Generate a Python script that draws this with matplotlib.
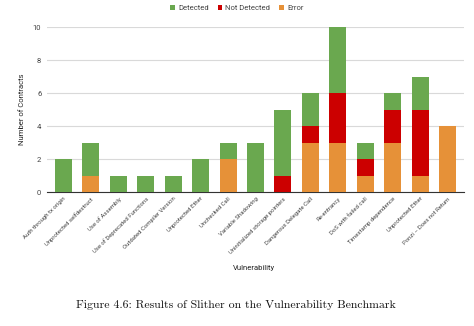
import matplotlib
matplotlib.use("Agg")
import matplotlib.pyplot as plt
import numpy as np

# данные
categories = [
    "Auth through tx origin",
    "Unprotected selfdestruct",
    "Use of Assembly",
    "Use of Deprecated Functions",
    "Outdated Compiler Version",
    "Unprotected Ether",
    "Unchecked Call",
    "Variable Shadowing",
    "Uninitialized storage pointers",
    "Dangerous Delegate Call",
    "Re-entrancy",
    "DoS with failed call",
    "Timestamp dependence",
    "Unprotected Ether",
    "Ponzi \u2013 Does not Return",
]
error = [0, 1, 0, 0, 0, 0, 2, 0, 0, 3, 3, 1, 3, 1, 4]
not_detected = [0, 0, 0, 0, 0, 0, 0, 0, 1, 1, 3, 1, 2, 4, 0]
detected = [2, 2, 1, 1, 1, 2, 1, 3, 4, 2, 4, 1, 1, 2, 0]

c_det = '#6aa84f'
c_not = '#cc0000'
c_err = '#e69138'

plt.rcParams['font.family'] = ['Roboto', 'DejaVu Sans']

fig = plt.figure(figsize=(4.74, 3.26), dpi=100)
ax = fig.add_axes([0.099, 0.411, 0.88, 0.506])

x = np.arange(len(categories))
err = np.array(error)
nd = np.array(not_detected)
det = np.array(detected)
w = 0.62
ax.bar(x, err, w, color=c_err, label='Error', zorder=3)
ax.bar(x, nd, w, bottom=err, color=c_not, label='Not Detected', zorder=3)
ax.bar(x, det, w, bottom=err + nd, color=c_det, label='Detected', zorder=3)

ax.set_ylim(0, 10)
ax.set_xlim(-0.6, len(categories) - 0.4)
ax.set_yticks(range(0, 11, 2))
ax.yaxis.grid(True, color='#d9d9d9', linewidth=0.8, zorder=0)
for s in ['top', 'right', 'left']:
    ax.spines[s].set_visible(False)
ax.spines['bottom'].set_color('#333333')
ax.spines['bottom'].set_linewidth(0.8)
ax.tick_params(axis='y', length=0, labelsize=5.5, labelcolor='#444444', pad=4)
ax.tick_params(axis='x', length=0, pad=3)
ax.set_xticks(x)
ax.set_xticklabels(categories, rotation=45, ha='right', rotation_mode='anchor',
                   fontsize=4.3, color='#444444')

ax.set_ylabel('Number of Contracts', fontsize=5.5, color='#222222', labelpad=6)
fig.text(0.535, 0.178, 'Vulnerability', fontsize=5.5, color='#222222', ha='center', va='center')

# легенда сверху в порядке Detected / Not Detected / Error
h, l = ax.get_legend_handles_labels()
order = [2, 1, 0]
fig.legend([h[i] for i in order], [l[i] for i in order], loc='center',
           bbox_to_anchor=(0.5, 0.975), ncol=3, frameon=False, fontsize=5.5,
           handlelength=0.6, handleheight=0.6, handletextpad=0.4, columnspacing=1.2,
           labelcolor='#444444')

# подпись как в LaTeX
fig.text(0.498, 0.065, 'Figure 4.6: Results of Slither on the Vulnerability Benchmark',
         fontsize=8.5, ha='center', va='center', family='cmr10', color='#111111')

fig.savefig('out.png', dpi=100)
